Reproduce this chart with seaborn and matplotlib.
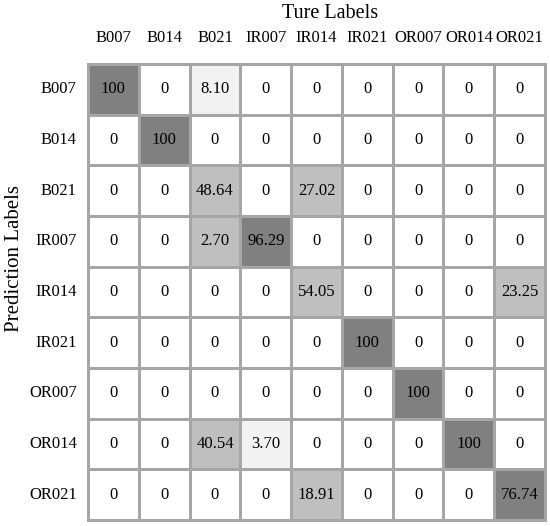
import numpy as np
import pandas as pd
import seaborn as sns
import matplotlib
matplotlib.use("Agg")
import matplotlib.pyplot as plt
from matplotlib.colors import ListedColormap

labels = ["B007", "B014", "B021", "IR007", "IR014", "IR021", "OR007", "OR014", "OR021"]

# rows: prediction labels, columns: true labels
values = [
    [100, 0, 8.10, 0, 0, 0, 0, 0, 0],
    [0, 100, 0, 0, 0, 0, 0, 0, 0],
    [0, 0, 48.64, 0, 27.02, 0, 0, 0, 0],
    [0, 0, 2.70, 96.29, 0, 0, 0, 0, 0],
    [0, 0, 0, 0, 54.05, 0, 0, 0, 23.25],
    [0, 0, 0, 0, 0, 100, 0, 0, 0],
    [0, 0, 0, 0, 0, 0, 100, 0, 0],
    [0, 0, 40.54, 3.70, 0, 0, 0, 100, 0],
    [0, 0, 0, 0, 18.91, 0, 0, 0, 76.74],
]

# shading level of each cell as it appears in the figure (0 white, 1 very light, 2 light, 3 dark)
shade = [
    [3, 0, 1, 0, 0, 0, 0, 0, 0],
    [0, 3, 0, 0, 0, 0, 0, 0, 0],
    [0, 0, 2, 0, 2, 0, 0, 0, 0],
    [0, 0, 2, 3, 0, 0, 0, 0, 0],
    [0, 0, 0, 0, 2, 0, 0, 0, 2],
    [0, 0, 0, 0, 0, 3, 0, 0, 0],
    [0, 0, 0, 0, 0, 0, 3, 0, 0],
    [0, 0, 2, 1, 0, 0, 0, 3, 0],
    [0, 0, 0, 0, 2, 0, 0, 0, 3],
]

def fmt(v):
    if v == 0:
        return "0"
    if v == 100:
        return "100"
    return f"{v:.2f}"

annot = np.array([[fmt(v) for v in row] for row in values])
shade_df = pd.DataFrame(shade, index=labels, columns=labels)

plt.rcParams["font.family"] = ["Liberation Serif", "DejaVu Serif"]

fig = plt.figure(figsize=(5.5, 5.26), dpi=100)
ax = fig.add_axes([0.16, 0.0114, 0.831, 0.8669])

cmap = ListedColormap(["#ffffff", "#f2f2f2", "#bfbfbf", "#808080"])
sns.heatmap(shade_df, ax=ax, cmap=cmap, vmin=-0.5, vmax=3.5, annot=annot, fmt="",
            annot_kws={"fontsize": 12, "color": "black"},
            linewidths=2, linecolor="#a6a6a6", cbar=False, square=False)

for c in ax.collections:
    c.set_clip_on(False)

ax.xaxis.tick_top()
ax.xaxis.set_label_position("top")
ax.tick_params(axis="both", length=0, labelsize=12)
ax.tick_params(axis="x", pad=13)
ax.tick_params(axis="y", pad=8)
plt.setp(ax.get_xticklabels(), rotation=0)
plt.setp(ax.get_yticklabels(), rotation=0)
ax.set_xlabel("")
ax.set_ylabel("")

fig.text(330 / 550, 1 - 13 / 526, "Ture Labels", ha="center", va="center", fontsize=14.5)
fig.text(15 / 550, 1 - 258 / 526, "Prediction Labels", ha="center", va="center",
         rotation=90, fontsize=15)

for s in ax.spines.values():
    s.set_visible(True)
    s.set_color("#a6a6a6")
    s.set_linewidth(2)

fig.savefig("out.png", dpi=100)
